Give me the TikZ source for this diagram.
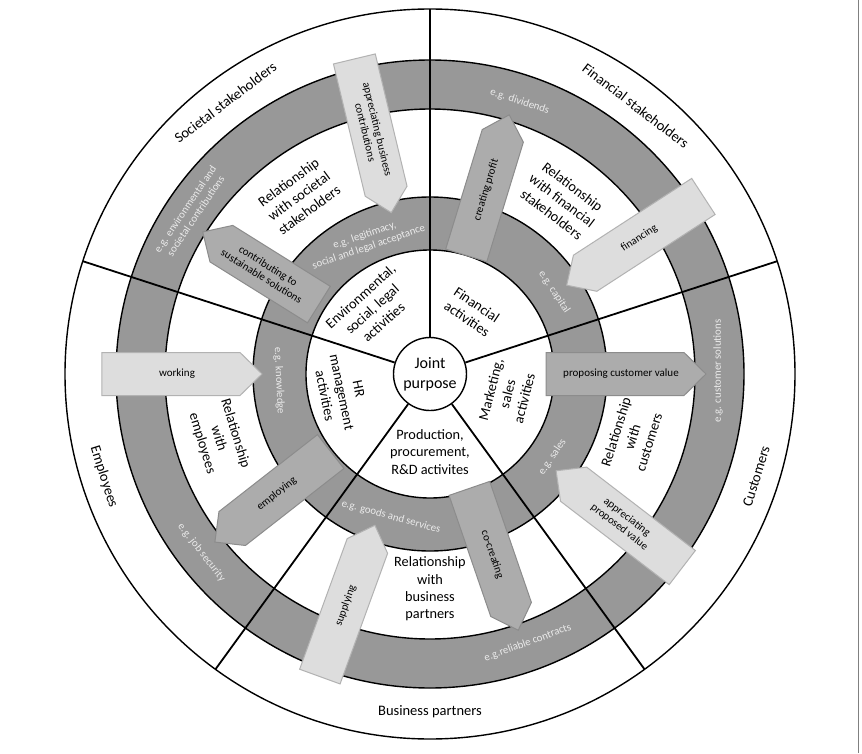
\documentclass[tikz,border=0pt]{standalone}
\usepackage{fontspec}
\setmainfont{Carlito}
\definecolor{ringgray}{RGB}{152,152,152}
\definecolor{lightfill}{RGB}{221,221,221}
\definecolor{lightdraw}{RGB}{178,178,178}
\definecolor{medfill}{RGB}{172,172,172}
\definecolor{meddraw}{RGB}{140,140,140}
\definecolor{ringtext}{RGB}{235,235,235}
\newcommand{\radarrow}[7]{%
  \begin{scope}[rotate=#2]
    \pgfmathsetmacro\hbase{#4-22*sign(#4-#3)}
    \pgfmathsetmacro\tcen{(#3+#4)/2-5*sign(#4-#3)}
    \draw[#1] (#3,-21.5) -- (\hbase,-21.5) -- (#4,0) -- (\hbase,21.5) -- (#3,21.5) -- cycle;
    \node[arrowtext, rotate=#5] (#7) at (\tcen,0) {#6};
  \end{scope}}
\begin{document}
\begin{tikzpicture}[x=1pt,y=1pt,
  ringline/.style={draw=black, line width=1.4pt},
  spoke/.style={draw=black, line width=1.8pt},
  lightarrow/.style={fill=lightfill, draw=lightdraw, line width=1pt},
  medarrow/.style={fill=medfill, draw=meddraw, line width=1pt},
  arrowtext/.style={align=center, inner sep=0pt, font=\fontsize{11}{12.5}\selectfont},
  outerlabel/.style={inner sep=0pt, font=\fontsize{14.5}{17}\selectfont},
  rellabel/.style={align=center, inner sep=0pt, font=\fontsize{14.3}{17.3}\selectfont},
  actlabel/.style={align=center, inner sep=0pt, font=\fontsize{14.3}{17.3}\selectfont},
  ringlabel/.style={align=center, inner sep=0pt, text=ringtext, font=\fontsize{10.8}{12.5}\selectfont}]
\useasboundingbox (-430,-379) rectangle (432,374);
% page edge line
\draw[draw=gray, line width=1pt] (428,-379) -- (428,374);
% rings
\draw[ringline, fill=white] (0,0) circle[radius=365pt];
\draw[ringline, fill=ringgray] (0,0) circle[radius=314pt];
\draw[ringline, fill=white] (0,0) circle[radius=265pt];
\draw[ringline, fill=ringgray] (0,0) circle[radius=177pt];
\draw[ringline, fill=white] (0,0) circle[radius=124pt];
% centre
\node[circle, ringline, fill=white, minimum size=73pt, inner sep=0pt, align=center,
      font=\fontsize{16}{20}\selectfont] (jp) at (0,0) {Joint\\purpose};
% spokes
\foreach \a in {18,90,162,234,306} \draw[spoke] (jp.\a) -- (\a:365);
% arrows
\radarrow{lightarrow}{180}{328}{168}{0}{working}{working}
\radarrow{medarrow}{0}{116}{276}{0}{proposing customer value}{proposing}
\radarrow{lightarrow}{103.5}{324}{166}{-76.5}{appreciating business\\contributions}{apprbus}
\radarrow{medarrow}{73}{124}{271}{73}{creating profit}{creating}
\radarrow{lightarrow}{33}{326}{163}{33}{financing}{financing}
\radarrow{medarrow}{148}{131}{268}{-32}{contributing to\\sustainable solutions}{contrib}
\radarrow{medarrow}{218}{126}{273}{38}{employing}{employing}
\radarrow{lightarrow}{250}{322}{161}{70}{supplying}{supplying}
\radarrow{medarrow}{289}{121}{271}{-71}{co-creating}{cocreating}
\radarrow{lightarrow}{322.5}{318}{159}{-37.5}{appreciating\\proposed value}{apprprop}
% outer labels
\node[outerlabel, rotate=37] (soc) at (127:340) {Societal stakeholders};
\node[outerlabel, rotate=-37.5] (fin) at (52.5:338) {Financial stakeholders};
\node[outerlabel, rotate=72.6] (cus) at (-17.4:342) {Customers};
\node[outerlabel] (bus) at (270:338) {Business partners};
\node[outerlabel, rotate=-72.5] (emp) at (197.5:342) {Employees};
% outer ring labels
\node[ringlabel, rotate=-18.2] (rdiv) at (71.8:287) {e.g. dividends};
\node[ringlabel, rotate=56] (renv) at (146:289) {e.g. environmental and\\societal contributions};
\node[ringlabel, rotate=90] (rcus) at (0.6:288) {e.g. customer solutions};
\node[ringlabel, rotate=20] (rrel) at (290:286) {e.g.reliable contracts};
\node[ringlabel, rotate=-52] (rjob) at (218:290) {e.g. job security};
% inner ring labels
\node[ringlabel, rotate=19] (rleg) at (115.5:147) {e.g. legitimacy,\\social and legal acceptance};
\node[ringlabel, rotate=-56.5] (rcap) at (33.5:149) {e.g. capital};
\node[ringlabel, rotate=-87.5] (rkno) at (182.5:151) {e.g. knowledge};
\node[ringlabel, rotate=55.8] (rsal) at (325.8:148) {e.g. sales};
\node[ringlabel, rotate=-15.3] (rgoo) at (254.7:148) {e.g. goods and services};
% relationship labels
\node[rellabel, rotate=36.4] (lsoc) at (126.4:221) {Relationship\\with societal\\stakeholders};
\node[rellabel, rotate=-37.3] (lfin) at (52.7:218) {Relationship\\with financial\\stakeholders};
\node[rellabel, rotate=72.7] (lcus) at (-17.3:212) {Relationship\\with\\customers};
\node[rellabel] (lbus) at (270:215) {Relationship\\with\\business\\partners};
\node[rellabel, rotate=-73] (lemp) at (197:221) {Relationship\\with\\employees};
% activity labels
\node[actlabel, rotate=41.8] (aenv) at (131.8:87) {Environmental,\\social, legal\\activities};
\node[actlabel, rotate=-34] (afin) at (56:75) {Financial\\activities};
\node[actlabel, rotate=75.5] (amar) at (-14.5:80) {Marketing,\\sales\\activities};
\node[actlabel] (apro) at (270:78) {Production,\\procurement,\\R\&D activites};
\node[actlabel, rotate=-78.4] (ahr) at (191.6:90) {HR\\management\\activities};
\end{tikzpicture}
\end{document}
